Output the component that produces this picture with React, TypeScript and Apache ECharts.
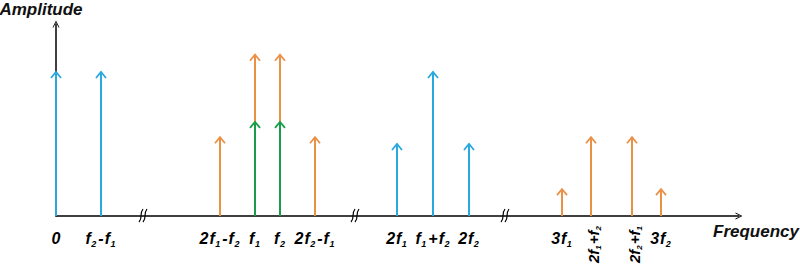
import React, { useEffect, useRef } from 'react';
import * as echarts from 'echarts';

// Spectral components: label, position on the (broken) frequency axis, amplitude, order group
const componentLabels = ['0', 'f2-f1', '2f1-f2', 'f1', 'f2', '2f2-f1', '2f1', 'f1+f2', '2f2', '3f1', '2f1+f2', '2f2+f1', '3f2'];
const componentPositions = [0, 4.5, 16.4, 19.9, 22.4, 25.9, 34.1, 37.7, 41.3, 50.6, 53.5, 57.6, 60.5];
const componentAmplitudes = [7.5, 7.5, 4.1, 8.4, 8.4, 4.1, 3.75, 7.5, 3.75, 1.4, 4.1, 4.1, 1.4];
const componentGroups = ['even', 'even', 'odd', 'odd', 'odd', 'odd', 'even', 'even', 'even', 'odd', 'odd', 'odd', 'odd'];

// Input fundamentals (green)
const fundamentalPositions = [19.9, 22.4];
const fundamentalAmplitudes = [4.9, 4.9];

// Axis break marks
const axisBreaks = [8.7, 29.9, 44.9];

const verticalLabels = ['2f1+f2', '2f2+f1'];

const X_MAX = 68.3;
const Y_MAX = 10;

const COLORS: Record<string, string> = {
  even: '#2aa8de',
  odd: '#ea9148',
  input: '#1b9c4a',
};

const FONT = '"Liberation Sans", Arial, sans-serif';

const rich = {
  n: { fontSize: 16, fontWeight: 'bold', fontStyle: 'italic', fontFamily: FONT, color: '#111', lineHeight: 18, verticalAlign: 'top', padding: [0, 0.5, 0, 0.5] },
  s: { fontSize: 9, fontWeight: 'bold', fontStyle: 'italic', fontFamily: FONT, color: '#111', lineHeight: 9, verticalAlign: 'bottom', padding: [0, 1.5, 0, 0] },
};

const richVertical = {
  n: { fontSize: 15, fontWeight: 'bold', fontStyle: 'italic', fontFamily: FONT, color: '#111', lineHeight: 17, verticalAlign: 'top' },
  s: { fontSize: 8, fontWeight: 'bold', fontStyle: 'italic', fontFamily: FONT, color: '#111', lineHeight: 8, verticalAlign: 'bottom', padding: [0, 1, 0, 0] },
};

function toRich(s: string): string {
  let out = '';
  for (let i = 0; i < s.length; i++) {
    const c = s[i];
    if (/\d/.test(c) && s[i - 1] === 'f') out += `{s|${c}}`;
    else out += `{n|${c}}`;
  }
  return out;
}

const arrowHead = (x: number, y: number) => [[x - 5, y + 6], [x, y], [x + 5, y + 6]];

export default function App() {
  const ref = useRef<HTMLDivElement>(null);

  useEffect(() => {
    if (!ref.current) return;
    const chart = echarts.init(ref.current, undefined, { renderer: 'svg' });

    const componentData = componentPositions.map((p, i) => [p, componentAmplitudes[i], i]);
    const fundamentalData = fundamentalPositions.map((p, i) => [p, fundamentalAmplitudes[i]]);
    const breakData = axisBreaks.map((p) => [p, 0]);

    const chevronPath = 'path://M0,10 L5,0 L10,10 L8.7,10 L5,2.6 L1.3,10 Z';

    chart.setOption({
      animation: false,
      backgroundColor: '#fff',
      grid: { left: 56, right: 61, top: 24, bottom: 50, containLabel: false, outerBoundsMode: 'none' },
      xAxis: {
        type: 'value',
        min: 0,
        max: X_MAX,
        name: 'Frequency',
        nameLocation: 'end',
        nameGap: 60,
        nameTextStyle: {
          fontFamily: FONT,
          fontSize: 17,
          fontStyle: 'italic',
          fontWeight: 'bold',
          color: '#111',
          align: 'right',
          verticalAlign: 'top',
          padding: [7, 0, 0, 0],
        },
        axisLine: {
          show: true,
          onZero: false,
          symbol: ['none', chevronPath],
          symbolSize: [10, 7],
          lineStyle: { color: '#000', width: 1.5 },
        },
        axisTick: { show: false },
        axisLabel: { show: false },
        splitLine: { show: false },
      },
      yAxis: {
        type: 'value',
        min: 0,
        max: Y_MAX,
        name: 'Amplitude',
        nameLocation: 'end',
        nameGap: 15,
        nameTextStyle: {
          fontFamily: FONT,
          fontSize: 17,
          fontStyle: 'italic',
          fontWeight: 'bold',
          color: '#111',
          align: 'center',
          verticalAlign: 'middle',
          padding: [0, 30, 0, 0],
        },
        axisLine: {
          show: true,
          symbol: ['none', chevronPath],
          symbolSize: [10, 7],
          lineStyle: { color: '#000', width: 1.5 },
        },
        axisTick: { show: false },
        axisLabel: { show: false },
        splitLine: { show: false },
      },
      series: [
        {
          type: 'custom',
          name: 'components',
          data: componentData,
          clip: false,
          renderItem: (params: any, api: any) => {
            const idx = api.value(2);
            const x = api.value(0);
            const amp = api.value(1);
            const base = api.coord([x, 0]);
            const tip = api.coord([x, amp]);
            const color = COLORS[componentGroups[idx]];
            const label = componentLabels[idx];
            const vertical = verticalLabels.includes(label);
            const text: any = vertical
              ? {
                  type: 'text',
                  x: base[0] + 3,
                  y: base[1] + 9,
                  rotation: Math.PI / 2,
                  style: { text: toRich(label), rich: richVertical, align: 'right', verticalAlign: 'middle' },
                }
              : {
                  type: 'text',
                  x: base[0],
                  y: base[1] + 23,
                  style: { text: toRich(label), rich, align: 'center', verticalAlign: 'middle' },
                };
            return {
              type: 'group',
              children: [
                { type: 'line', shape: { x1: base[0], y1: base[1], x2: tip[0], y2: tip[1] }, style: { stroke: color, lineWidth: 2 } },
                { type: 'polyline', shape: { points: arrowHead(tip[0], tip[1]) }, style: { stroke: color, lineWidth: 1.8, fill: 'none' } },
                text,
              ],
            };
          },
        },
        {
          type: 'custom',
          name: 'fundamentals',
          data: fundamentalData,
          clip: false,
          renderItem: (params: any, api: any) => {
            const x = api.value(0);
            const amp = api.value(1);
            const base = api.coord([x, 0]);
            const tip = api.coord([x, amp]);
            const color = COLORS.input;
            return {
              type: 'group',
              children: [
                { type: 'line', shape: { x1: base[0], y1: base[1], x2: tip[0], y2: tip[1] }, style: { stroke: color, lineWidth: 2 } },
                { type: 'polyline', shape: { points: arrowHead(tip[0], tip[1]) }, style: { stroke: color, lineWidth: 1.8, fill: 'none' } },
              ],
            };
          },
        },
        {
          type: 'custom',
          name: 'breaks',
          data: breakData,
          clip: false,
          renderItem: (params: any, api: any) => {
            const c = api.coord([api.value(0), 0]);
            const mk = (dx: number) => ({
              type: 'bezierCurve',
              shape: {
                x1: c[0] + dx - 2, y1: c[1] + 6,
                cpx1: c[0] + dx + 2.5, cpy1: c[1] + 1,
                cpx2: c[0] + dx - 2.5, cpy2: c[1] - 1,
                x2: c[0] + dx + 2, y2: c[1] - 7,
              },
              style: { stroke: '#000', lineWidth: 1.2, fill: 'none' },
            });
            return { type: 'group', children: [mk(-2), mk(2)] };
          },
        },
      ],
    });

    return () => chart.dispose();
  }, []);

  return <div ref={ref} style={{ position: 'absolute', left: 0, top: 0, width: 800, height: 266 }} />;
}
